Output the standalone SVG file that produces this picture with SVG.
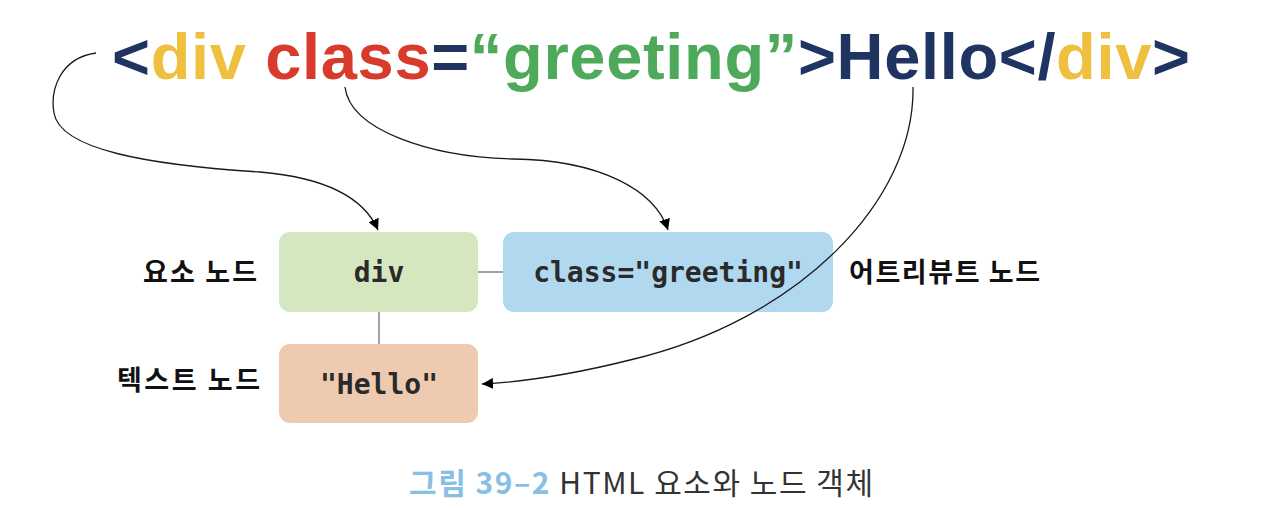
<svg xmlns="http://www.w3.org/2000/svg" width="1276" height="508" viewBox="0 0 1276 508">
<style>
.code{font-family:"Liberation Sans","Noto Sans",Arial,sans-serif;font-weight:bold;font-size:65px}
.nav{fill:#1f3461}.yel{fill:#efbf3f}.red{fill:#d83a2b}.grn{fill:#4fa95b}
.mono{font-family:"DejaVu Sans Mono","Liberation Mono",monospace;font-weight:bold;font-size:28px;fill:#2a2a2a;text-anchor:middle;dominant-baseline:central}
.lbl{font-family:"Noto Sans CJK KR","Noto Sans",sans-serif;font-weight:bold;font-size:27px;fill:#111;dominant-baseline:central}
.cap{font-family:"Noto Sans CJK KR","Liberation Sans",sans-serif;font-size:30px}
.arr{fill:none;stroke:#1a1a1a;stroke-width:1.3}
.lnk{fill:none;stroke:#6f7080;stroke-width:1.3}
</style>
<defs>
<marker id="ah" viewBox="0 0 10 10" refX="10" refY="5" markerWidth="11" markerHeight="11" markerUnits="userSpaceOnUse" orient="auto">
<path d="M0,0 L10,5 L0,10 Z" fill="#000"/>
</marker>
</defs>
<g id="source">
<text class="code" x="112" y="79" textLength="1078" lengthAdjust="spacing"><tspan class="nav">&lt;</tspan><tspan class="yel">div</tspan><tspan class="red"> class</tspan><tspan class="nav">=</tspan><tspan class="grn">“greeting”</tspan><tspan class="nav">&gt;Hello&lt;/</tspan><tspan class="yel">div</tspan><tspan class="nav">&gt;</tspan></text>
</g>
<g id="connectors">
<line class="lnk" x1="478" y1="272" x2="503" y2="272"/>
<line class="lnk" x1="379" y1="312" x2="379" y2="344"/>
</g>
<g id="node-div">
<rect x="279" y="232" width="199" height="80" rx="11" fill="#d5e7bf"/>
<text class="mono" x="379" y="272">div</text>
</g>
<g id="node-class">
<rect x="503" y="232" width="330" height="80" rx="11" fill="#b0d8ee"/>
<text class="mono" x="668" y="272">class="greeting"</text>
</g>
<g id="node-hello">
<rect x="279" y="344" width="199" height="79" rx="11" fill="#eecbb0"/>
<text class="mono" x="379" y="384">"Hello"</text>
</g>
<g id="arrows">
<path class="arr" marker-end="url(#ah)" d="M96,53 C60,58 50,90 54,113 C60,150 150,165 260,172 C330,178 365,200 378,230"/>
<path class="arr" marker-end="url(#ah)" d="M345,87 C350,130 430,157 513,159 C600,160 655,190 668,230"/>
<path class="arr" marker-end="url(#ah)" d="M913,87 C915,200 800,320 630,360 C570,375 520,382 482,384"/>
</g>
<g id="labels">
<text class="lbl" x="257" y="270" text-anchor="end" textLength="114" lengthAdjust="spacing">요소 노드</text>
<text class="lbl" x="849" y="270" textLength="191" lengthAdjust="spacing">어트리뷰트 노드</text>
<text class="lbl" x="260" y="378" text-anchor="end" textLength="143" lengthAdjust="spacing">텍스트 노드</text>
</g>
<g id="caption">
<text class="cap" x="409" y="494" textLength="464" lengthAdjust="spacing"><tspan fill="#88bfe4" font-weight="bold">그림 39–2</tspan><tspan fill="#333"> HTML 요소와 노드 객체</tspan></text>
</g>
</svg>
